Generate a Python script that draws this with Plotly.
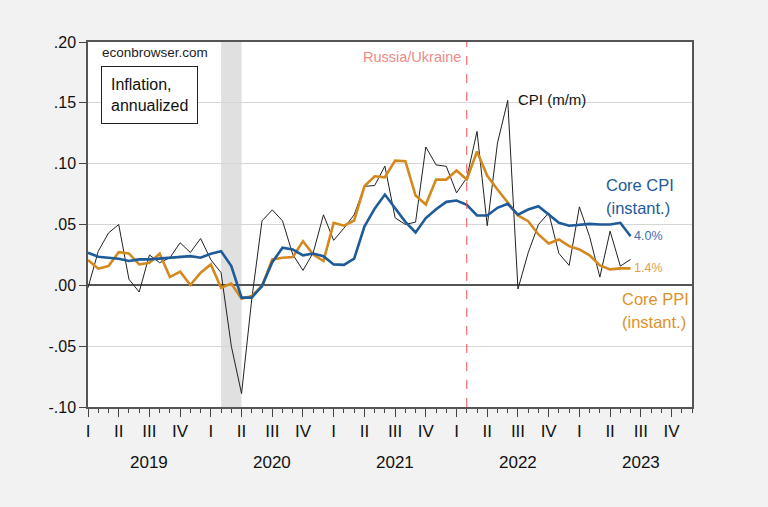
import plotly.graph_objects as go
import pandas as pd

# ---- data (monthly, Jan 2019 - Jun 2023), annualized rates ----
months = pd.period_range("2019-01", "2023-06", freq="M")

cpi_mm = [-0.002, 0.028, 0.043, 0.050, 0.005, -0.0055, 0.025, 0.0186, 0.0227, 0.035,
          0.027, 0.0385, 0.021, 0.0104, -0.050, -0.089, -0.011, 0.053, 0.062, 0.053,
          0.0254, 0.0123, 0.0268, 0.058, 0.037, 0.047, 0.058, 0.0814, 0.082, 0.098,
          0.0555, 0.050, 0.052, 0.1137, 0.099, 0.0978, 0.076, 0.0883, 0.1265, 0.049,
          0.117, 0.152, -0.003, 0.0268, 0.050, 0.0596, 0.0262, 0.0164, 0.0645, 0.040,
          0.0068, 0.0445, 0.0158, 0.0213]

core_cpi = [0.0268, 0.0235, 0.0227, 0.0219, 0.020, 0.0213, 0.0213, 0.0221, 0.0227, 0.0232,
            0.024, 0.0227, 0.026, 0.0281, 0.0158, -0.0101, -0.0101, -0.0005, 0.019, 0.0309,
            0.0295, 0.0246, 0.0262, 0.024, 0.0172, 0.0168, 0.0219, 0.0483, 0.063, 0.0746,
            0.0634, 0.0522, 0.0435, 0.0553, 0.0625, 0.0686, 0.0697, 0.0662, 0.0574, 0.0574,
            0.0637, 0.067, 0.058, 0.0623, 0.065, 0.058, 0.0514, 0.049, 0.050, 0.0505,
            0.050, 0.050, 0.0514, 0.0404]

core_ppi = [0.0208, 0.0137, 0.0158, 0.0273, 0.0262, 0.0172, 0.0186, 0.026, 0.0068, 0.0112,
            0.0003, 0.0104, 0.0172, -0.002, 0.0014, -0.011, -0.0087, -0.0005, 0.0213, 0.0227,
            0.0232, 0.0363, 0.0254, 0.020, 0.0514, 0.049, 0.0533, 0.0814, 0.0896, 0.0888,
            0.1025, 0.102, 0.0738, 0.0664, 0.0869, 0.0869, 0.0943, 0.087, 0.110, 0.090,
            0.0787, 0.0678, 0.0574, 0.0527, 0.0418, 0.0344, 0.0377, 0.0322, 0.0295, 0.0246,
            0.0164, 0.0131, 0.0139, 0.0139]

quarter_labels = ["I", "II", "III", "IV"]
years = [2019, 2020, 2021, 2022, 2023]
y_tick_vals = [-0.10, -0.05, 0.00, 0.05, 0.10, 0.15, 0.20]
y_tick_text = ["-.10", "-.05", ".00", ".05", ".10", ".15", ".20"]

recession = ("2020-02", "2020-04")
event_month = "2022-02"

# ---- helpers ----
base_year = years[0]
def midx(p):
    p = pd.Period(p, freq="M")
    return (p.year - base_year) * 12 + p.month - 1

x = [midx(p) for p in months]
x_end = len(years) * 12 - 1

BLUE = "#1f5a99"
ORANGE = "#d4891e"
FONT = "Arial, Liberation Sans, sans-serif"

fig = go.Figure()

fig.add_trace(go.Scatter(x=x, y=cpi_mm, mode="lines", name="CPI (m/m)",
                         line=dict(color="#222222", width=1)))
fig.add_trace(go.Scatter(x=x, y=core_ppi, mode="lines", name="Core PPI",
                         line=dict(color=ORANGE, width=2.6)))
fig.add_trace(go.Scatter(x=x, y=core_cpi, mode="lines", name="Core CPI",
                         line=dict(color=BLUE, width=2.6)))

# recession shading
fig.add_shape(type="rect", xref="x", yref="paper", x0=midx(recession[0]), x1=midx(recession[1]),
              y0=0, y1=1, fillcolor="#e0e0e0", line_width=0, layer="below")
# Russia/Ukraine line
fig.add_shape(type="line", xref="x", yref="paper", x0=midx(event_month), x1=midx(event_month),
              y0=0, y1=1, line=dict(color="#f05050", width=1, dash="dash"))

tickvals = list(range(0, x_end + 1, 3))
ticktext = [quarter_labels[(v // 3) % 4] for v in tickvals]

fig.update_xaxes(range=[0, x_end], tickmode="array", tickvals=tickvals, ticktext=ticktext,
                 ticks="outside", ticklen=8, tickcolor="#444", tickwidth=1,
                 minor=dict(tickmode="linear", tick0=0, dtick=1, ticks="outside",
                            ticklen=4, tickcolor="#444", tickwidth=1),
                 showgrid=False, zeroline=False, showline=True, mirror=True,
                 linecolor="#555", linewidth=1.5,
                 tickfont=dict(family=FONT, size=17, color="#111"),
                 ticklabelstandoff=0)

fig.update_yaxes(range=[-0.10, 0.20], tickmode="array", tickvals=y_tick_vals,
                 ticktext=y_tick_text, ticks="outside", ticklen=7, tickcolor="#444",
                 showgrid=True, gridcolor="#d6d6d6", gridwidth=1,
                 zeroline=True, zerolinecolor="#555", zerolinewidth=2,
                 showline=True, mirror=True, linecolor="#555", linewidth=1.5,
                 tickfont=dict(family=FONT, size=16, color="#111"))

ann = []
# year labels
for yr in years:
    ann.append(dict(x=(yr - base_year) * 12 + 6, y=(407 - 462) / 365.0, xref="x", yref="paper",
                    text=str(yr), showarrow=False, yanchor="middle",
                    font=dict(family=FONT, size=17, color="#111")))

ann.append(dict(x=12 / 604, y=(407 - 52) / 365, xref="paper", yref="paper",
                text="econbrowser.com", showarrow=False, xanchor="left", yanchor="middle",
                font=dict(family=FONT, size=13.5, color="#222")))
ann.append(dict(x=13 / 604, y=(407 - 66) / 365, xref="paper", yref="paper",
                text="Inflation,<br>annualized", showarrow=False, xanchor="left", yanchor="top",
                align="left", bordercolor="#222", borderwidth=1, borderpad=9, bgcolor="white",
                font=dict(family=FONT, size=16, color="#111")))
ann.append(dict(x=midx(event_month), y=(407 - 57) / 365, xref="x", yref="paper",
                text="Russia/Ukraine", showarrow=False, xanchor="right", yanchor="middle",
                xshift=-4, font=dict(family=FONT, size=14.5, color="#f08a8a")))
ann.append(dict(x=41.8, y=(286 - 100) / 1216.7, xref="x", yref="y",
                text="CPI (m/m)", showarrow=False, xanchor="left", yanchor="middle",
                font=dict(family=FONT, size=15, color="#111")))
for txt, ypx in [("Core CPI", 186), ("(instant.)", 209)]:
    ann.append(dict(x=(604 - 88) / 10.237, y=(286 - ypx) / 1216.7, xref="x", yref="y",
                    text=txt, showarrow=False, xanchor="left", yanchor="middle",
                    font=dict(family=FONT, size=16.5, color=BLUE)))
for txt, ypx in [("Core PPI", 300), ("(instant.)", 323)]:
    ann.append(dict(x=(620 - 88) / 10.237, y=(286 - ypx) / 1216.7, xref="x", yref="y",
                    text=txt, showarrow=False, xanchor="left", yanchor="middle",
                    font=dict(family=FONT, size=16.5, color="#e0912a")))
ann.append(dict(x=x[-1], y=core_cpi[-1], xref="x", yref="y",
                text=f"{core_cpi[-1]*100:.1f}%", showarrow=False, xanchor="left",
                yanchor="middle", xshift=1,
                font=dict(family=FONT, size=12.5, color="#3a6db0")))
ann.append(dict(x=x[-1], y=core_ppi[-1], xref="x", yref="y",
                text=f"{core_ppi[-1]*100:.1f}%", showarrow=False, xanchor="left",
                yanchor="middle", xshift=1,
                font=dict(family=FONT, size=12.5, color="#e0a050")))

fig.update_layout(width=768, height=507, margin=dict(l=88, r=76, t=42, b=100),
                  paper_bgcolor="#f2f2f2", plot_bgcolor="white", showlegend=False,
                  annotations=ann)

fig.write_html("out.html")
